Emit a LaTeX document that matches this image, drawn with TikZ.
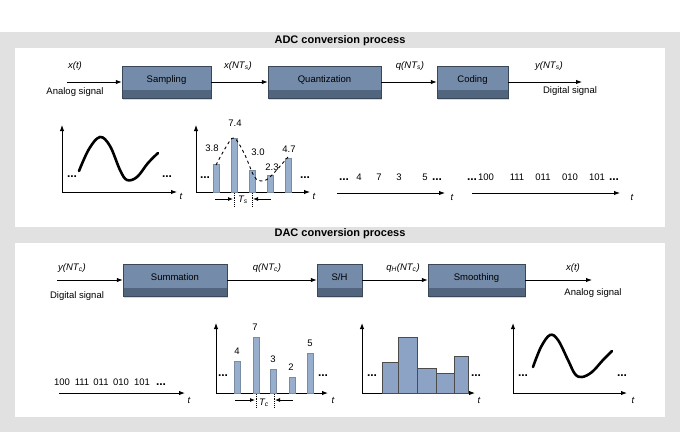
\documentclass[tikz,border=0pt]{standalone}
\usepackage{fontspec}
\setmainfont{Liberation Sans}
\usetikzlibrary{arrows.meta, shadows}

\definecolor{panelgray}{RGB}{225,225,225}
\definecolor{boxtop}{RGB}{116,140,170}
\definecolor{boxbot}{RGB}{82,101,126}
\definecolor{barblue}{RGB}{152,174,205}
\definecolor{stepblue}{RGB}{140,163,198}

\begin{document}
\begin{tikzpicture}[x=1pt, y=-1pt,
    font=\fontsize{9.5}{11}\selectfont,
    box/.style={draw=boxbot!70!black, fill=boxtop, minimum height=32pt,
        text height=6pt, text depth=6pt, inner sep=0pt,
        drop shadow={opacity=0.3, shadow xshift=1pt, shadow yshift=-1.5pt},
        path picture={\fill[boxbot] (path picture bounding box.south west)
            rectangle ([yshift=8pt]path picture bounding box.south east);}},
    flow/.style={-{Latex[length=6pt, width=4.5pt]}, line width=1pt},
    axis/.style={{Latex[length=6pt, width=4.5pt]}-{Latex[length=6pt, width=4.5pt]}, line width=1pt},
    title/.style={font=\fontsize{11}{13}\selectfont\bfseries, inner sep=0pt},
    lbl/.style={font=\fontsize{9.5}{11}\selectfont\itshape, inner sep=0pt},
    note/.style={inner sep=0pt},
    num/.style={inner sep=0pt, anchor=base},
    dots/.style={inner sep=0pt, anchor=base, font=\fontsize{12}{13}\selectfont\bfseries},
    wave/.style={line width=2.6pt, line cap=round},
    bar/.style={fill=barblue, draw=barblue!80!black, line width=0.3pt},
    stepbox/.style={fill=stepblue, draw=black!70, line width=0.6pt},
    tick/.style={densely dotted, line width=0.8pt},
    marker/.style={-{Latex[length=5pt, width=4pt]}, line width=0.9pt}
]
    % background and panels
    \useasboundingbox (0,0) rectangle (680,432);
    \fill[white] (0,0) rectangle (680,432);
    \fill[panelgray] (0,32) rectangle (680,432);
    \fill[white] (15,48) rectangle (665,227);
    \fill[white] (15,243) rectangle (665,417);

    \node[title] at (340,41) (adctitle) {ADC conversion process};
    \node[title] at (340,234) (dactitle) {DAC conversion process};

    % ADC chain
    \node[box, minimum width=89pt] at (166.5,82) (sampling) {Sampling};
    \node[box, minimum width=113pt] at (324.5,82) (quant) {Quantization};
    \node[box, minimum width=71pt] at (472.5,82) (coding) {Coding};
    \coordinate (adcin) at (67,82);
    \coordinate (adcout) at (582,82);

    \draw[flow] (adcin) -- (sampling);
    \draw[flow] (sampling) -- (quant);
    \draw[flow] (quant) -- (coding);
    \draw[flow] (coding) -- (adcout);

    \node[lbl] at (75,66) (xt) {x(t)};
    \node[note] at (75,92) (analog) {Analog signal};
    \node[lbl] at (238,66) (xnts) {x(NT\textsubscript{s})};
    \node[lbl] at (410,66) (qnts) {q(NT\textsubscript{s})};
    \node[lbl] at (549,66) (ynts) {y(NT\textsubscript{s})};
    \node[note] at (570,91) (digital) {Digital signal};

    % analog input signal
    \draw[axis] (62,125) -- (62,192) -- (177,192);
    \node[lbl] at (181,196) (t1) {t};
    \draw[wave] plot[smooth, tension=0.6] coordinates {(79,171) (89,149) (100,137)
        (110,146) (120,170) (127,180) (137,177) (148,163) (158,153)};
    \node[dots] at (72,177) (d1) {...};
    \node[dots] at (167,177) (d2) {...};

    % sampled signal
    \draw[axis] (196,125) -- (196,192) -- (310,192);
    \node[lbl] at (314,196) (t2) {t};
    \foreach \x/\v/\lx/\ly [count=\i] in {216/3.8/212/148, 234/7.4/235/123,
        252/3.0/258/152, 270/2.3/272/167, 288/4.7/289/149} {
        \fill[bar] (\x-3,192) rectangle (\x+3,{192-7.3*\v});
        \node[note] at (\lx,\ly) (s\i) {\v};
    }
    \draw[dashed, line width=0.9pt] plot[smooth, tension=0.6] coordinates {(216,165)
        (226,147) (234,138) (244,153) (254,176) (261,181) (270,177) (288,157)};
    \node[dots] at (205,178) (d3) {...};
    \node[dots] at (305,178) (d4) {...};
    \draw[tick] (234,193) -- (234,206);
    \draw[tick] (252,193) -- (252,206);
    \draw[marker] (215,199) -- (233,199);
    \draw[marker] (271,199) -- (253,199);
    \node[lbl] at (243,200) (ts) {T\textsubscript{s}};

    % quantized levels
    \draw[flow] (337,193) -- (445,193);
    \node[lbl] at (452,197) (t3) {t};
    \node[dots] at (344,180) (d5) {...};
    \foreach \x/\v [count=\i] in {359/4, 379/7, 399/3, 425/5}
        \node[num] at (\x,180) (q\i) {\v};
    \node[dots] at (437,180) (d6) {...};

    % code words
    \draw[flow] (472,193) -- (620,193);
    \node[lbl] at (632,197) (t4) {t};
    \node[dots] at (472,180) (d7) {...};
    \foreach \x/\v [count=\i] in {486/100, 517/111, 543/011, 570/010, 597/101}
        \node[num] at (\x,180) (c\i) {\v};
    \node[dots] at (614,180) (d8) {...};

    % DAC chain
    \node[box, minimum width=104pt] at (175,280) (summation) {Summation};
    \node[box, minimum width=45pt] at (339.5,280) (sh) {S/H};
    \node[box, minimum width=97pt] at (476.5,280) (smoothing) {Smoothing};
    \coordinate (dacin) at (57,280);
    \coordinate (dacout) at (592,280);

    \draw[flow] (dacin) -- (summation);
    \draw[flow] (summation) -- (sh);
    \draw[flow] (sh) -- (smoothing);
    \draw[flow] (smoothing) -- (dacout);

    \node[lbl] at (72,268) (yntc) {y(NT\textsubscript{c})};
    \node[note] at (77,296) (digital2) {Digital signal};
    \node[lbl] at (267,268) (qntc) {q(NT\textsubscript{c})};
    \node[lbl] at (403,268) (qhntc) {q\textsubscript{H}(NT\textsubscript{c})};
    \node[lbl] at (573,268) (xt2) {x(t)};
    \node[note] at (593,293) (analog2) {Analog signal};

    % received code words
    \draw[flow] (59,393) -- (185,393);
    \node[lbl] at (189,400) (t5) {t};
    \foreach \x/\v [count=\i] in {62/100, 82/111, 101/011, 121/010, 142/101}
        \node[num] at (\x,385) (r\i) {\v};
    \node[dots] at (161,385) (d9) {...};

    % decoded values
    \draw[axis] (216,323) -- (216,393) -- (328,393);
    \node[lbl] at (333,400) (t6) {t};
    \foreach \x/\v/\lx [count=\i] in {237/4/237, 256/7/255, 273/3/273, 292/2/291, 310/5/310} {
        \fill[bar] (\x-3,393) rectangle (\x+3,{393-8*\v});
        \node[note] at (\lx,{383-8*\v}) (v\i) {\v};
    }
    \node[dots] at (223,376) (d10) {...};
    \node[dots] at (323,376) (d11) {...};
    \draw[tick] (256,394) -- (256,407);
    \draw[tick] (274,394) -- (274,407);
    \draw[marker] (235,400) -- (255,400);
    \draw[marker] (293,400) -- (275,400);
    \node[lbl] at (264,403) (tc) {T\textsubscript{c}};

    % held staircase
    \draw[axis] (362,323) -- (362,393) -- (475,393);
    \node[lbl] at (479,400) (t7) {t};
    \draw[stepbox] (382,362) rectangle (398,393);
    \draw[stepbox] (398,337) rectangle (417,393);
    \draw[stepbox] (417,368) rectangle (436,393);
    \draw[stepbox] (436,373) rectangle (454,393);
    \draw[stepbox] (454,356) rectangle (468,393);
    \node[dots] at (372,376) (d12) {...};
    \node[dots] at (476,376) (d13) {...};

    % analog output signal
    \draw[axis] (513,323) -- (513,393) -- (627,393);
    \node[lbl] at (633,400) (t8) {t};
    \draw[wave] plot[smooth, tension=0.6] coordinates {(533,367) (541,347) (550,335)
        (558,340) (568,360) (575,374) (582,377) (592,372) (603,360) (612,351)};
    \node[dots] at (523,376) (d14) {...};
    \node[dots] at (622,376) (d15) {...};
\end{tikzpicture}
\end{document}
